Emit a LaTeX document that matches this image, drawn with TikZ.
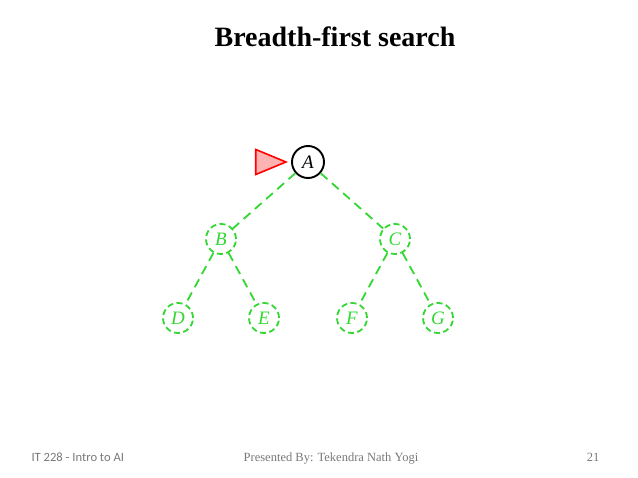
\documentclass[tikz,border=0pt]{standalone}
\usepackage{fontspec}
\setmainfont{Liberation Serif}
\newfontfamily\footfont{Carlito}
\usepackage{tikz}
\definecolor{searchgreen}{RGB}{50,215,50}
\definecolor{footgray}{RGB}{120,120,120}
\tikzstyle{open node}    = [circle,draw=searchgreen,line width=1.8pt,dash pattern=on 6pt off 3.5pt,minimum size=30pt,inner sep=0,text=searchgreen,font=\fontsize{19}{22}\selectfont\itshape]
\tikzstyle{current node} = [circle,draw=black,line width=1.9pt,minimum size=32pt,inner sep=0,font=\fontsize{19}{22}\selectfont\itshape]
\tikzstyle{marker}       = [isosceles triangle,draw=red,fill=red!30,line width=1.6pt,minimum height=21pt,minimum width=25pt,inner sep=0]
\usetikzlibrary{shapes.geometric,calc}

\begin{document}
\begin{tikzpicture}[x=1pt,y=1pt]

    \useasboundingbox (0,0) rectangle (638,-478);

    \tikzstyle{level 1}=[level distance=77pt, sibling distance=174pt]
    \tikzstyle{level 2}=[level distance=79pt, sibling distance=86pt]
    \tikzstyle{edge from parent}=[draw=searchgreen,line width=1.8pt,dash pattern=on 9pt off 6pt]

    % title
    \node(title) at (335,-37) {\fontsize{28}{32}\selectfont\bfseries Breadth-first search};

    % root being expanded
    \node(A)[current node] at (308,-162) {A}
        % left subtree
        child{node(B)[open node]{B}
            child{node(D)[open node]{D}}
            child{node(E)[open node]{E}}
        }
        % right subtree
        child{node(C)[open node]{C}
            child{node(F)[open node]{F}}
            child{node(G)[open node]{G}}
        }
    ;

    % pointer to the current node
    \node(pointer)[marker, anchor=apex] at ($(A.west)+(-3,0)$) {};

    % footer
    \node(course)[anchor=base west, text=footgray] at (28,-462) {\footfont\fontsize{12.6}{14}\selectfont IT 228 - Intro to AI};
    \node(author)[anchor=base, text=footgray] at (331,-462) {\fontsize{12.5}{14}\selectfont Presented By: Tekendra Nath Yogi};
    \node(page)[anchor=base east, text=footgray] at (603,-462) {\fontsize{12.5}{14}\selectfont 21};

\end{tikzpicture}
\end{document}
